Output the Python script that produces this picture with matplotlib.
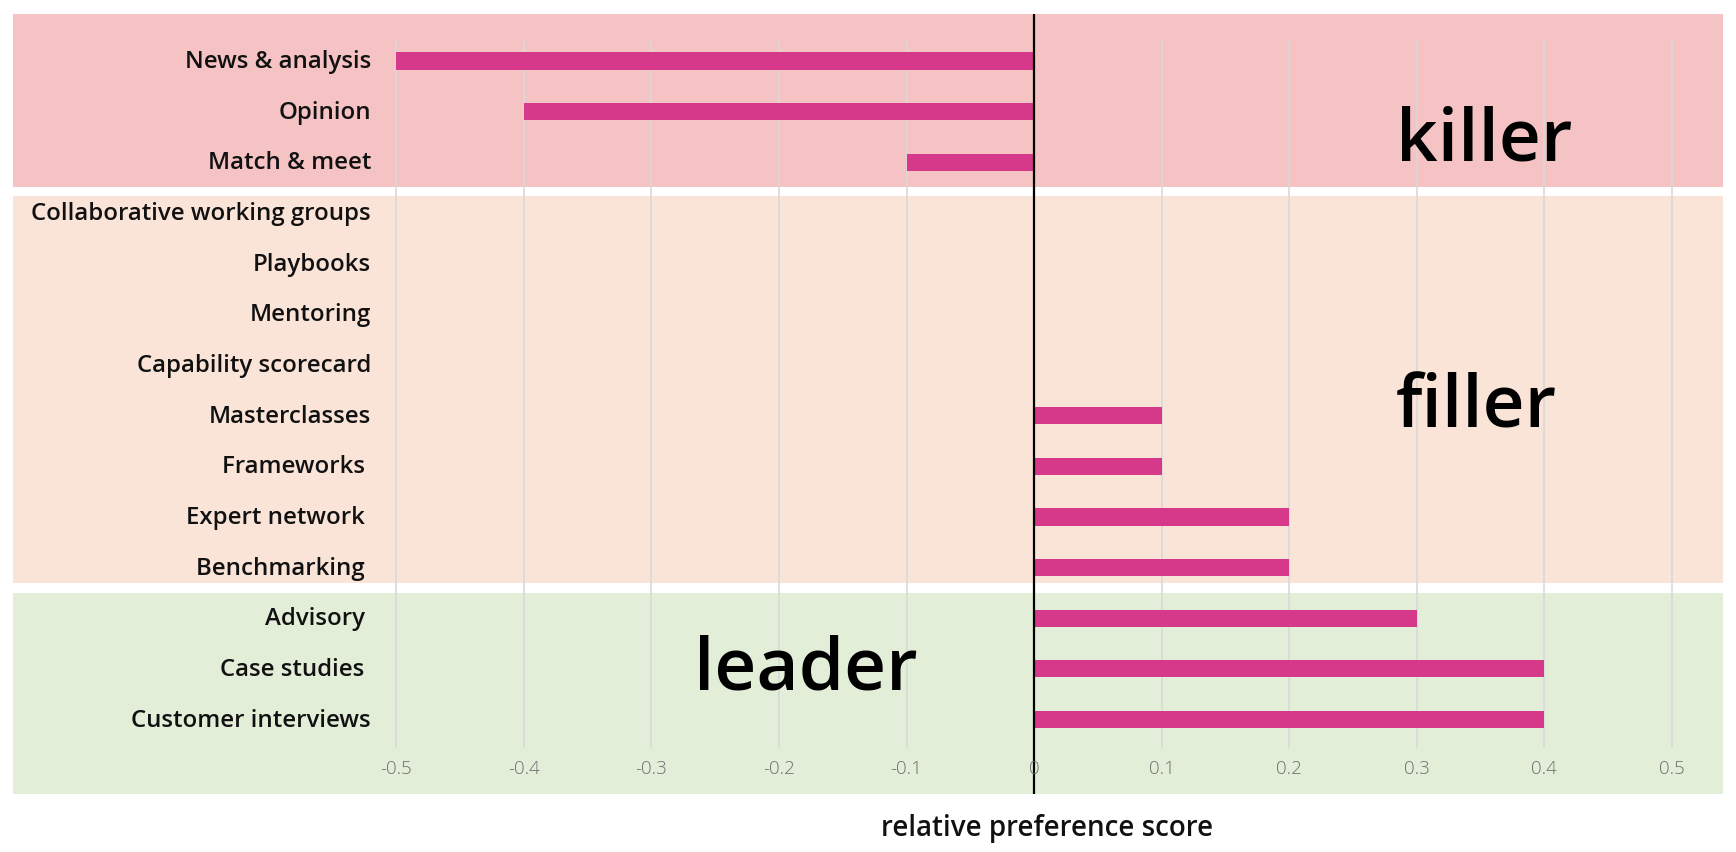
import matplotlib
matplotlib.use('Agg')
import matplotlib.pyplot as plt

plt.rcParams['font.family'] = ['Open Sans', 'DejaVu Sans']

# data, top to bottom
items = ['News & analysis', 'Opinion', 'Match & meet', 'Collaborative working groups',
         'Playbooks', 'Mentoring', 'Capability scorecard', 'Masterclasses',
         'Frameworks ', 'Expert network ', 'Benchmarking ', 'Advisory ',
         'Case studies ', 'Customer interviews']
scores = [-0.5, -0.4, -0.1, 0, 0, 0, 0, 0.1, 0.1, 0.2, 0.2, 0.3, 0.4, 0.4]
xticks = [-0.5, -0.4, -0.3, -0.2, -0.1, 0, 0.1, 0.2, 0.3, 0.4, 0.5]
xtick_labels = ['-0.5', '-0.4', '-0.3', '-0.2', '-0.1', '0', '0.1', '0.2', '0.3', '0.4', '0.5']
# zones: (name, first row, last row, colour)
zones = [('killer', 0, 2, '#F5C3C3'),
         ('filler', 3, 10, '#FAE4D8'),
         ('leader', 11, 13, '#E2EED8')]

bar_col = '#D6398A'

fig = plt.figure(figsize=(17.36, 8.53), dpi=100)
ax = fig.add_axes([0.0075, 0.068, 0.985, 0.9145])
ax.set_xlim(-0.8007, 0.5403)
ax.set_ylim(14.47, -0.93)
ax.axis('off')

# coloured background bands
span_pad = {'killer': (-0.93, 0.48), 'filler': (-0.33, 0.31), 'leader': (-0.5, 1.47)}
for name, r0, r1, col in zones:
    lo, hi = span_pad[name]
    ax.axhspan(r0 + lo, r1 + hi, color=col, lw=0, zorder=0)

# grid
grid_x = [t for t in xticks if t != 0]
ax.vlines(grid_x, -0.42, 13.56, color='#D9D9D9', lw=1.2, zorder=1)
ax.axvline(0, color='black', lw=1.6, zorder=3)

rows = list(range(len(items)))
ax.barh(rows, scores, height=0.34, color=bar_col, zorder=2)

for r, name in zip(rows, items):
    ax.text(-0.52, r, name, ha='right', va='center', fontsize=17.3,
            fontweight='semibold', color='#111111')

for t, lab in zip(xticks, xtick_labels):
    ax.text(t, 13.96, lab, ha='center', va='center', fontsize=13.5,
            fontweight='light', color='#6E6E6E')

ax.text(0.01, 15.14, 'relative preference score', ha='center', va='center',
        fontsize=20, fontweight='semibold', color='#111111')

# zone names
ax.text(0.284, 1.94, 'killer', ha='left', va='baseline', fontsize=52.5,
        fontweight='semibold', color='black')
ax.text(0.284, 7.22, 'filler', ha='left', va='baseline', fontsize=52.5,
        fontweight='semibold', color='black')
ax.text(-0.267, 12.39, 'leader', ha='left', va='baseline', fontsize=52.5,
        fontweight='semibold', color='black')

fig.savefig('out.png', dpi=100, facecolor='white')
